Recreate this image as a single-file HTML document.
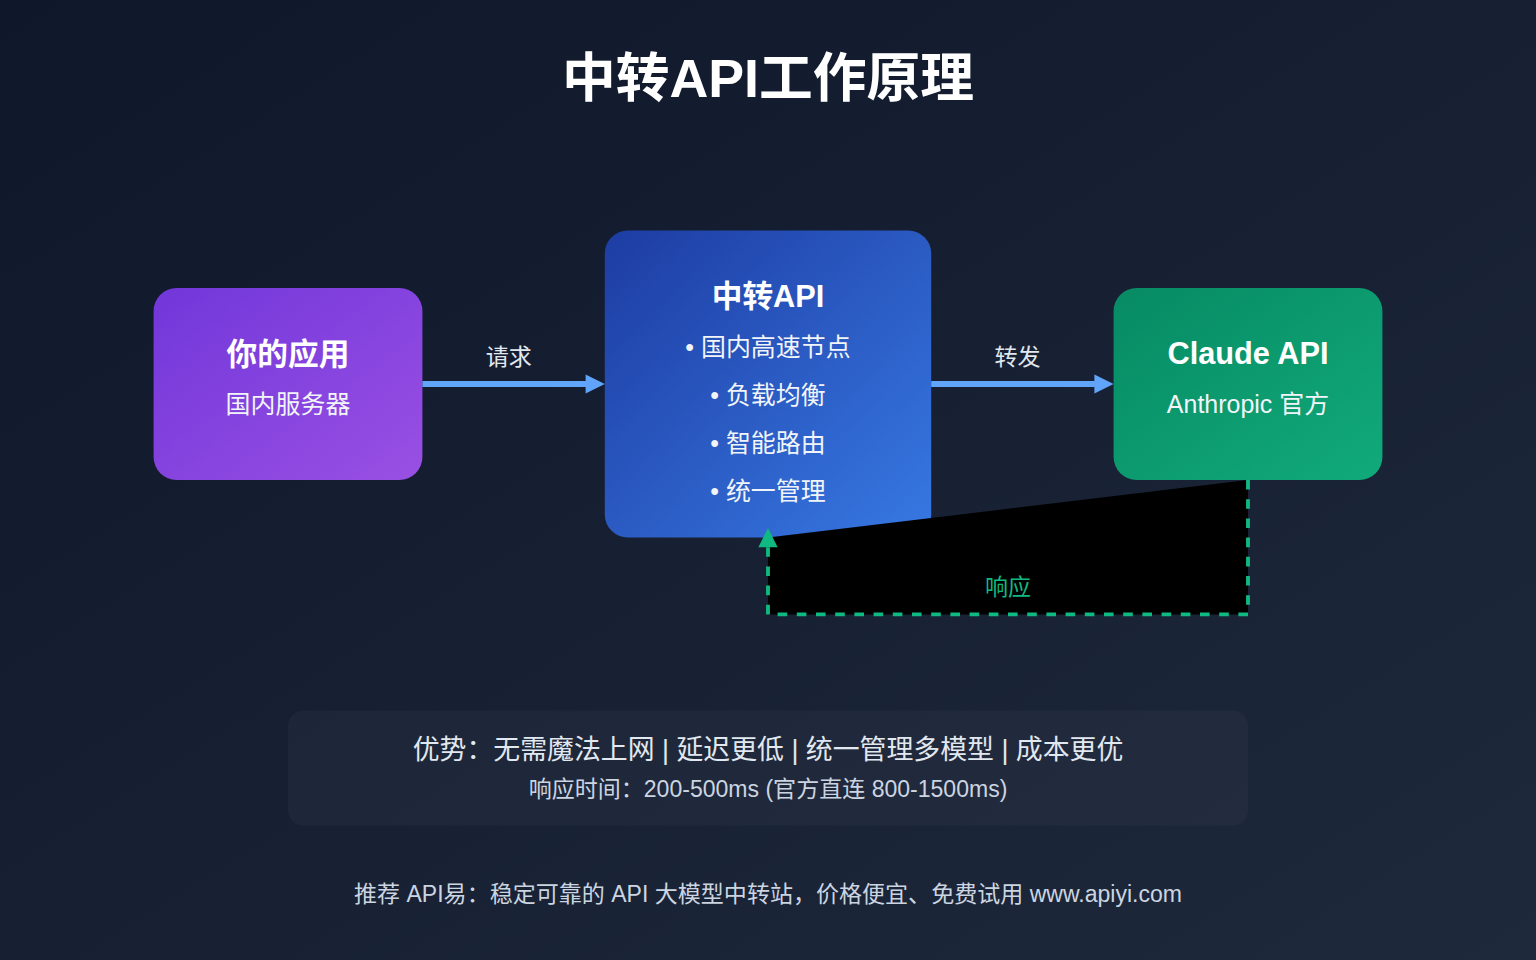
<!DOCTYPE html>
<html lang="zh-CN"><head><meta charset="utf-8"><title>中转API工作原理</title>
<style>
html,body{margin:0;padding:0;background:#0f172a}
svg{display:block}
.t{font-family:"Liberation Sans","Noto Sans CJK SC",sans-serif;stroke:none}
</style></head><body>
<svg width="1536" height="960" viewBox="0 0 800 500" role="img" aria-label="中转API工作原理">
<defs>
<linearGradient id="bg" x1="0" y1="0" x2="1" y2="1"><stop offset="0" stop-color="#0f172a"/><stop offset="1" stop-color="#1e293b"/></linearGradient>
<linearGradient id="g1" x1="0" y1="0" x2="1" y2="1"><stop offset="0" stop-color="#7c3aed"/><stop offset="1" stop-color="#a855f7"/></linearGradient>
<linearGradient id="g2" x1="0" y1="0" x2="1" y2="1"><stop offset="0" stop-color="#1e40af"/><stop offset="1" stop-color="#3b82f6"/></linearGradient>
<linearGradient id="g3" x1="0" y1="0" x2="1" y2="1"><stop offset="0" stop-color="#059669"/><stop offset="1" stop-color="#10b981"/></linearGradient>
</defs>
<rect width="800" height="500" fill="url(#bg)"/>
<rect x="80" y="150" width="140" height="100" rx="12" fill="url(#g1)" opacity="0.9"/>
<rect x="315" y="120" width="170" height="160" rx="12" fill="url(#g2)" opacity="0.9"/>
<rect x="580" y="150" width="140" height="100" rx="12" fill="url(#g3)" opacity="0.9"/>
<path d="M220 200H306" stroke="#60a5fa" stroke-width="3" fill="none"/><path d="M305 195L315 200L305 205Z" fill="#60a5fa"/>
<path d="M485 200H571" stroke="#60a5fa" stroke-width="3" fill="none"/><path d="M570 195L580 200L570 205Z" fill="#60a5fa"/>
<path d="M650 250V320H400V280" fill="#000" stroke="#10b981" stroke-width="2" stroke-dasharray="5 5"/>
<path d="M395 285L400 275L405 285Z" fill="#10b981"/>
<rect x="150" y="370" width="500" height="60" rx="8" fill="#ffffff" fill-opacity="0.03"/>
<text class="t" x="400" y="50.400" font-size="28" text-anchor="middle" font-weight="bold" fill="#ffffff">中转API工作原理</text>
<text class="t" x="150" y="190.100" font-size="16" text-anchor="middle" font-weight="bold" fill="#ffffff">你的应用</text>
<text class="t" x="150" y="215.250" font-size="13" text-anchor="middle" fill="#f1f5f9">国内服务器</text>
<text class="t" x="265" y="190.050" font-size="12" text-anchor="middle" fill="#e2e8f0">请求</text>
<text class="t" x="400" y="160.100" font-size="16" text-anchor="middle" font-weight="bold" fill="#ffffff">中转API</text>
<text class="t" x="400" y="185.250" font-size="13" text-anchor="middle" fill="#f1f5f9">• 国内高速节点</text>
<text class="t" x="400" y="210.250" font-size="13" text-anchor="middle" fill="#f1f5f9">• 负载均衡</text>
<text class="t" x="400" y="235.250" font-size="13" text-anchor="middle" fill="#f1f5f9">• 智能路由</text>
<text class="t" x="400" y="260.250" font-size="13" text-anchor="middle" fill="#f1f5f9">• 统一管理</text>
<text class="t" x="530" y="190.050" font-size="12" text-anchor="middle" fill="#e2e8f0">转发</text>
<text class="t" x="650" y="189.800" font-size="16" text-anchor="middle" font-weight="bold" fill="#ffffff">Claude API</text>
<text class="t" x="650" y="215.250" font-size="13" text-anchor="middle" fill="#f1f5f9">Anthropic 官方</text>
<text class="t" x="525" y="310.050" font-size="12" text-anchor="middle" fill="#10b981">响应</text>
<text class="t" x="400" y="395.200" font-size="14" text-anchor="middle" fill="#e2e8f0">优势：无需魔法上网 | 延迟更低 | 统一管理多模型 | 成本更优</text>
<text class="t" x="400" y="415.050" font-size="12" text-anchor="middle" fill="#cbd5e1">响应时间：200-500ms (官方直连 800-1500ms)</text>
<text class="t" x="400" y="470.050" font-size="12" text-anchor="middle" fill="#cbd5e1">推荐 API易：稳定可靠的 API 大模型中转站，价格便宜、免费试用 www.apiyi.com</text>
</svg>
</body></html>
